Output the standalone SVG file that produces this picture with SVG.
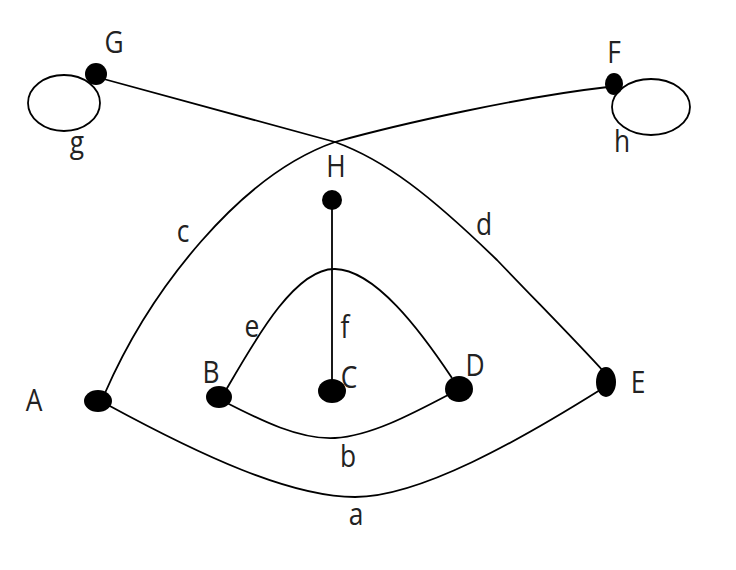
<svg xmlns="http://www.w3.org/2000/svg" width="736" height="570" viewBox="0 0 736 570">
<style>
.e{fill:none;stroke:#000;stroke-width:1.8}
.n{fill:#000}
.t{font-family:"Open Sans","Liberation Sans",sans-serif;font-size:31px;fill:#222;text-anchor:middle}
</style>
<rect width="736" height="570" fill="#fff"/>
<g id="edges">
<path id="edge-a" class="e" d="M108,405 C200,455 290,497 355,497 C420,497 520,440 600,390"/>
<path id="edge-b" class="e" d="M225,402 C260,420 300,440 335,438 C370,436 410,415 448,395"/>
<path id="edge-c" class="e" d="M105,393 C150,290 240,175 335,142 C400,124 520,97 608,87"/>
<path id="edge-d" class="e" d="M100,78 L335,142 C385,160 430,195 497,260 C540,305 575,340 604,372"/>
<path id="edge-e" class="e" d="M226,390 C255,340 295,268 335,269 C375,270 420,330 452,378"/>
<path id="edge-f" class="e" d="M332,205 L332,385"/>
<ellipse id="edge-g" class="e" cx="64" cy="103" rx="36" ry="28"/>
<ellipse id="edge-h" class="e" cx="651" cy="107" rx="39" ry="28"/>
<text class="t" transform="translate(356,525) scale(0.85,1)">a</text>
<text class="t" transform="translate(348,467) scale(0.85,1)">b</text>
<text class="t" transform="translate(183,242) scale(0.85,1)">c</text>
<text class="t" transform="translate(484,235) scale(0.85,1)">d</text>
<text class="t" transform="translate(252,337) scale(0.85,1)">e</text>
<text class="t" transform="translate(345,338) scale(0.85,1)">f</text>
<text class="t" transform="translate(77,153) scale(0.85,1)">g</text>
<text class="t" transform="translate(622,152) scale(0.85,1)">h</text>
</g>
<g id="node-A"><ellipse class="n" cx="98" cy="401" rx="14" ry="11"/><text class="t" transform="translate(34,411) scale(0.85,1)">A</text></g>
<g id="node-B"><ellipse class="n" cx="219" cy="397" rx="13" ry="11"/><text class="t" transform="translate(211,383) scale(0.85,1)">B</text></g>
<g id="node-C"><ellipse class="n" cx="332" cy="391" rx="14" ry="12"/><text class="t" transform="translate(349,388) scale(0.85,1)">C</text></g>
<g id="node-D"><ellipse class="n" cx="459" cy="389" rx="14" ry="13"/><text class="t" transform="translate(475,376) scale(0.85,1)">D</text></g>
<g id="node-E"><ellipse class="n" cx="606" cy="382" rx="10" ry="15"/><text class="t" transform="translate(638,393) scale(0.85,1)">E</text></g>
<g id="node-F"><ellipse class="n" cx="614" cy="84" rx="9" ry="11"/><text class="t" transform="translate(614,63) scale(0.85,1)">F</text></g>
<g id="node-G"><circle class="n" cx="96" cy="74" r="11"/><text class="t" transform="translate(114,53) scale(0.85,1)">G</text></g>
<g id="node-H"><circle class="n" cx="332" cy="200" r="10"/><text class="t" transform="translate(336,177) scale(0.85,1)">H</text></g>
</svg>
